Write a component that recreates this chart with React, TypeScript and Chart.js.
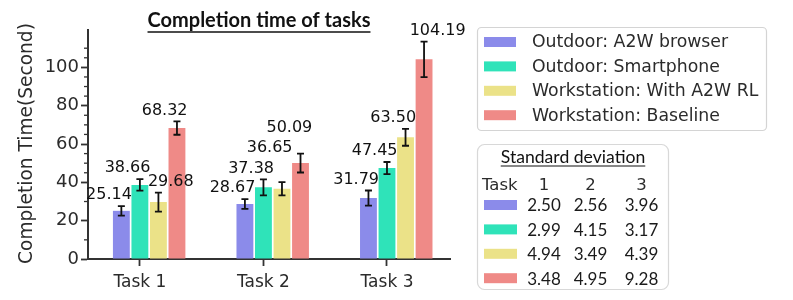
import React, { useEffect, useRef } from "react";
import { Chart, registerables } from "chart.js";

Chart.register(...registerables);

// ---------------- data ----------------
const TASKS = ["Task 1", "Task 2", "Task 3"];
const SERIES = [
  "Outdoor: A2W browser",
  "Outdoor: Smartphone",
  "Workstation: With A2W RL",
  "Workstation: Baseline",
];
const A2W_BROWSER = [25.14, 28.67, 31.79];
const SMARTPHONE = [38.66, 37.38, 47.45];
const WITH_A2W_RL = [29.68, 36.65, 63.5];
const BASELINE = [68.32, 50.09, 104.19];

const STD_A2W_BROWSER = [2.5, 2.56, 3.96];
const STD_SMARTPHONE = [2.99, 4.15, 3.17];
const STD_WITH_A2W_RL = [4.94, 3.49, 4.39];
const STD_BASELINE = [3.48, 4.95, 9.28];

const Y_MAJOR_TICKS = [0, 20, 40, 60, 80, 100];
const Y_MINOR_TICKS = [10, 30, 45, 50, 55, 65, 70, 75, 85, 90, 95, 105, 110];
const TABLE_HEADER = ["Task", "1", "2", "3"];

const VALUES = [A2W_BROWSER, SMARTPHONE, WITH_A2W_RL, BASELINE];
const STDS = [STD_A2W_BROWSER, STD_SMARTPHONE, STD_WITH_A2W_RL, STD_BASELINE];

// ---------------- style / layout ----------------
const COLORS = ["#8b8bea", "#2fe3b9", "#ebe288", "#ef8a87"];
const BAR_STEP = 0.15; // bar spacing in category units
const LABEL_DX = -0.1; // default label shift (category units)
const LABEL_LIFT = 5.7; // label centre above error cap (value units)
// exceptions for label placement: [series, task, dx, lift]
const LABEL_EXCEPTIONS: [number, number, number, number][] = [
  [2, 0, 0.1, 5.5],
  [2, 1, -0.1, 17.7],
  [3, 1, -0.09, 13.2],
  [3, 2, 0.11, 5.8],
];
const AXIS_COLOR = "#333333";
const TEXT_COLOR = "#2b2b2b";
const DEJAVU = "'DejaVu Sans', sans-serif";
const LATO = "Lato, 'Open Sans', sans-serif";

function roundRect(ctx: CanvasRenderingContext2D, x: number, y: number, w: number, h: number, r: number) {
  ctx.beginPath();
  ctx.moveTo(x + r, y);
  ctx.lineTo(x + w - r, y);
  ctx.arcTo(x + w, y, x + w, y + r, r);
  ctx.lineTo(x + w, y + h - r);
  ctx.arcTo(x + w, y + h, x + w - r, y + h, r);
  ctx.lineTo(x + r, y + h);
  ctx.arcTo(x, y + h, x, y + h - r, r);
  ctx.lineTo(x, y + r);
  ctx.arcTo(x, y, x + r, y, r);
  ctx.closePath();
}

const customPlugin = {
  id: "customDraw",
  afterDatasetsDraw(chart: any) {
    const ctx: CanvasRenderingContext2D = chart.ctx;
    const ys = chart.scales.y;
    const xs = chart.scales.x;
    ctx.save();
    // error bars
    ctx.strokeStyle = "#111";
    ctx.lineWidth = 1.8;
    VALUES.forEach((vals, i) => {
      const meta = chart.getDatasetMeta(i);
      vals.forEach((v, j) => {
        const bar = meta.data[j];
        const x = bar.x;
        const top = ys.getPixelForValue(v + STDS[i][j]);
        const bot = ys.getPixelForValue(v - STDS[i][j]);
        ctx.beginPath();
        ctx.moveTo(x, top);
        ctx.lineTo(x, bot);
        ctx.moveTo(x - 3.5, top);
        ctx.lineTo(x + 3.5, top);
        ctx.moveTo(x - 3.5, bot);
        ctx.lineTo(x + 3.5, bot);
        ctx.stroke();
      });
    });
    // value labels
    ctx.fillStyle = "#111";
    ctx.font = `16px ${DEJAVU}`;
    ctx.textAlign = "center";
    ctx.textBaseline = "middle";
    VALUES.forEach((vals, i) => {
      const meta = chart.getDatasetMeta(i);
      vals.forEach((v, j) => {
        let dx = LABEL_DX;
        let lift = LABEL_LIFT;
        const ex = LABEL_EXCEPTIONS.find((e) => e[0] === i && e[1] === j);
        if (ex) {
          dx = ex[2];
          lift = ex[3];
        }
        const xVal = xs.getValueForPixel(meta.data[j].x) + dx;
        const x = xs.getPixelForValue(xVal);
        const y = ys.getPixelForValue(v + STDS[i][j] + lift);
        ctx.fillText(v.toFixed(2), x, y);
      });
    });
    ctx.restore();
  },
  afterDraw(chart: any) {
    const ctx: CanvasRenderingContext2D = chart.ctx;
    const ys = chart.scales.y;
    const area = chart.chartArea;
    ctx.save();

    // minor ticks
    ctx.strokeStyle = AXIS_COLOR;
    ctx.lineWidth = 1.3;
    Y_MINOR_TICKS.forEach((v) => {
      const y = ys.getPixelForValue(v);
      ctx.beginPath();
      ctx.moveTo(area.left - 4, y);
      ctx.lineTo(area.left, y);
      ctx.stroke();
    });

    // title
    const title = "Completion time of tasks";
    ctx.font = `bold 20px ${LATO}`;
    ctx.fillStyle = "#111";
    ctx.textAlign = "center";
    ctx.textBaseline = "middle";
    const tcx = 259;
    ctx.fillText(title, tcx, 21);
    const tw = ctx.measureText(title).width;
    ctx.strokeStyle = "#111";
    ctx.lineWidth = 1.4;
    ctx.beginPath();
    ctx.moveTo(tcx - tw / 2, 32);
    ctx.lineTo(tcx + tw / 2, 32);
    ctx.stroke();

    // y-axis title
    ctx.save();
    ctx.translate(27, (area.top + area.bottom) / 2 - 1);
    ctx.rotate(-Math.PI / 2);
    ctx.font = `18.6px ${DEJAVU}`;
    ctx.fillStyle = TEXT_COLOR;
    ctx.fillText("Completion Time(Second)", 0, 0);
    ctx.restore();

    // legend
    ctx.strokeStyle = "#d4d4d4";
    ctx.lineWidth = 1.2;
    roundRect(ctx, 477.5, 27.5, 289, 103, 4);
    ctx.fillStyle = "rgba(255,255,255,0.9)";
    ctx.fill();
    ctx.stroke();
    ctx.font = `17.3px ${DEJAVU}`;
    ctx.textAlign = "left";
    ctx.textBaseline = "middle";
    SERIES.forEach((name, i) => {
      const cy = 42 + i * 24.4;
      ctx.fillStyle = COLORS[i];
      ctx.fillRect(484, cy - 5, 32, 10);
      ctx.fillStyle = TEXT_COLOR;
      ctx.fillText(name, 532, cy + 1);
    });

    // std table
    ctx.strokeStyle = "#d8d8d8";
    ctx.lineWidth = 1.2;
    roundRect(ctx, 477.5, 144.5, 191, 145, 7);
    ctx.fillStyle = "#fff";
    ctx.fill();
    ctx.stroke();
    ctx.fillStyle = "#111";
    ctx.font = `17.6px ${LATO}`;
    ctx.textAlign = "center";
    const st = "Standard deviation";
    ctx.fillText(st, 573, 157);
    const sw = ctx.measureText(st).width;
    ctx.strokeStyle = "#111";
    ctx.lineWidth = 1.2;
    ctx.beginPath();
    ctx.moveTo(573 - sw / 2, 166);
    ctx.lineTo(573 + sw / 2, 166);
    ctx.stroke();

    const colX = [544, 590.5, 641.5];
    ctx.font = `16.5px ${DEJAVU}`;
    ctx.fillStyle = TEXT_COLOR;
    ctx.textAlign = "left";
    ctx.fillText(TABLE_HEADER[0], 482, 186);
    ctx.textAlign = "center";
    TABLE_HEADER.slice(1).forEach((h, k) => ctx.fillText(h, colX[k], 186));

    ctx.font = `17px ${LATO}`;
    STDS.forEach((row, i) => {
      const cy = 205 + i * 24.4;
      ctx.fillStyle = COLORS[i];
      ctx.fillRect(484, cy - 5, 33, 10);
      ctx.fillStyle = "#1a1a1a";
      row.forEach((v, k) => ctx.fillText(v.toFixed(2), colX[k], cy + 1));
    });

    ctx.restore();
  },
};

export default function App() {
  const canvasRef = useRef<HTMLCanvasElement | null>(null);

  useEffect(() => {
    const canvas = canvasRef.current;
    if (!canvas) return;
    const datasets = SERIES.map((name, i) => ({
      label: name,
      data: VALUES[i].map((v, j) => ({ x: j + (i - 1) * BAR_STEP, y: v })),
      backgroundColor: COLORS[i],
      borderWidth: 0,
      grouped: false,
      categoryPercentage: 1,
      barPercentage: 0.91,
    }));

    const chart = new Chart(canvas, {
      type: "bar",
      data: { datasets } as any,
      plugins: [customPlugin],
      options: {
        animation: false,
        responsive: false,
        devicePixelRatio: 1,
        events: [],
        layout: { padding: { left: 0, right: 343, top: 30, bottom: 0 } },
        plugins: {
          legend: { display: false },
          tooltip: { enabled: false },
          title: { display: false },
        },
        scales: {
          x: {
            type: "linear",
            min: -0.42,
            max: 2.51,
            offset: false,
            afterBuildTicks: (scale: any) => {
              scale.ticks = TASKS.map((_, i) => ({ value: i }));
            },
            afterFit: (scale: any) => {
              scale.height = 41;
            },
            ticks: {
              callback: (v: any) => TASKS[Math.round(Number(v))] ?? "",
              color: TEXT_COLOR,
              font: { family: DEJAVU, size: 17 },
              padding: 6,
              maxRotation: 0,
              autoSkip: false,
            },
            grid: {
              display: true,
              drawOnChartArea: false,
              drawTicks: true,
              tickLength: 7,
              tickColor: AXIS_COLOR,
              tickWidth: 1.8,
              offset: false,
            },
            border: { display: true, color: AXIS_COLOR, width: 2 },
          },
          y: {
            type: "linear",
            min: 0,
            max: 119.5,
            afterBuildTicks: (scale: any) => {
              scale.ticks = Y_MAJOR_TICKS.map((v) => ({ value: v }));
            },
            afterFit: (scale: any) => {
              scale.width = 88;
            },
            ticks: {
              callback: (v: any) => String(v),
              color: TEXT_COLOR,
              font: { family: DEJAVU, size: 18 },
              padding: 2,
            },
            grid: {
              display: true,
              drawOnChartArea: false,
              drawTicks: true,
              tickLength: 7,
              tickColor: AXIS_COLOR,
              tickWidth: 1.8,
            },
            border: { display: true, color: AXIS_COLOR, width: 2 },
          },
        },
      } as any,
    });
    return () => chart.destroy();
  }, []);

  return (
    <div style={{ position: "absolute", left: 0, top: 0, width: 793, height: 300, background: "#fff" }}>
      <canvas ref={canvasRef} width={793} height={300} style={{ display: "block" }} />
    </div>
  );
}
